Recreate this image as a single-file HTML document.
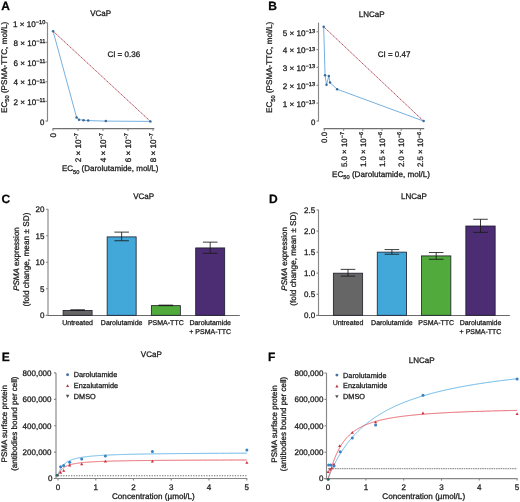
<!DOCTYPE html>
<html><head><meta charset="utf-8"><style>
html,body{margin:0;padding:0;background:#fff;}
text{stroke:#1a1a1a;stroke-width:0.28px;}
svg{display:block;will-change:transform;text-rendering:geometricPrecision;font-family:"Liberation Sans", sans-serif;}
</style></head><body>
<svg width="520" height="502" viewBox="0 0 520 502">
<rect width="520" height="502" fill="#fff"/>
<text x="1.2" y="10.2" font-size="12" text-anchor="start" font-weight="bold" fill="#000" >A</text>
<text x="100.6" y="16.2" font-size="8" text-anchor="middle" font-weight="normal" fill="#1a1a1a" >VCaP</text>
<line x1="47.5" y1="22.7" x2="47.5" y2="121.5" stroke="#878787" stroke-width="1.15" />
<line x1="45.5" y1="121.0" x2="47.5" y2="121.0" stroke="#878787" stroke-width="1.15" />
<line x1="45.5" y1="101.34" x2="47.5" y2="101.34" stroke="#878787" stroke-width="1.15" />
<line x1="45.5" y1="81.68" x2="47.5" y2="81.68" stroke="#878787" stroke-width="1.15" />
<line x1="45.5" y1="62.02" x2="47.5" y2="62.02" stroke="#878787" stroke-width="1.15" />
<line x1="45.5" y1="42.36" x2="47.5" y2="42.36" stroke="#878787" stroke-width="1.15" />
<line x1="45.5" y1="22.700000000000003" x2="47.5" y2="22.700000000000003" stroke="#878787" stroke-width="1.15" />
<text x="44.3" y="124.8" font-size="7.9" text-anchor="end" font-weight="normal" fill="#1a1a1a" >0</text>
<text x="45.3" y="105.14" font-size="8.1" text-anchor="end" font-weight="normal" fill="#1a1a1a" >2 × 10<tspan dx="0" dy="-2.8" font-size="5.6">−11</tspan></text>
<text x="45.3" y="85.48" font-size="8.1" text-anchor="end" font-weight="normal" fill="#1a1a1a" >4 × 10<tspan dx="0" dy="-2.8" font-size="5.6">−11</tspan></text>
<text x="45.3" y="65.82000000000001" font-size="8.1" text-anchor="end" font-weight="normal" fill="#1a1a1a" >6 × 10<tspan dx="0" dy="-2.8" font-size="5.6">−11</tspan></text>
<text x="45.3" y="46.16" font-size="8.1" text-anchor="end" font-weight="normal" fill="#1a1a1a" >8 × 10<tspan dx="0" dy="-2.8" font-size="5.6">−11</tspan></text>
<text x="45.3" y="26.500000000000004" font-size="8.1" text-anchor="end" font-weight="normal" fill="#1a1a1a" >1 × 10<tspan dx="0" dy="-2.8" font-size="5.6">−10</tspan></text>
<text transform="translate(6.5,67.4) rotate(-90)" font-size="8.15" text-anchor="middle" fill="#1a1a1a" >EC<tspan dy="2.3" font-size="5.7">50</tspan><tspan dy="-2.3"> (PSMA-TTC, mol/L)</tspan></text>
<line x1="52.5" y1="128.7" x2="154.3" y2="128.7" stroke="#707070" stroke-width="1.3" />
<line x1="53" y1="128.7" x2="53" y2="130.7" stroke="#878787" stroke-width="1.15" />
<line x1="78" y1="128.7" x2="78" y2="130.7" stroke="#878787" stroke-width="1.15" />
<line x1="103" y1="128.7" x2="103" y2="130.7" stroke="#878787" stroke-width="1.15" />
<line x1="128" y1="128.7" x2="128" y2="130.7" stroke="#878787" stroke-width="1.15" />
<line x1="153" y1="128.7" x2="153" y2="130.7" stroke="#878787" stroke-width="1.15" />
<text transform="translate(56.2,133.1) rotate(-90)" font-size="8.1" text-anchor="end" fill="#1a1a1a" >0</text>
<text transform="translate(81.2,133.1) rotate(-90)" font-size="8.1" text-anchor="end" fill="#1a1a1a" >2 × 10<tspan dx="0" dy="-2.8" font-size="5.6">−7</tspan></text>
<text transform="translate(106.2,133.1) rotate(-90)" font-size="8.1" text-anchor="end" fill="#1a1a1a" >4 × 10<tspan dx="0" dy="-2.8" font-size="5.6">−7</tspan></text>
<text transform="translate(131.2,133.1) rotate(-90)" font-size="8.1" text-anchor="end" fill="#1a1a1a" >6 × 10<tspan dx="0" dy="-2.8" font-size="5.6">−7</tspan></text>
<text transform="translate(156.2,133.1) rotate(-90)" font-size="8.1" text-anchor="end" fill="#1a1a1a" >8 × 10<tspan dx="0" dy="-2.8" font-size="5.6">−7</tspan></text>
<text x="61.9" y="171.4" font-size="8" text-anchor="start" font-weight="normal" fill="#1a1a1a" >EC<tspan dy="2.3" font-size="5.7">50</tspan><tspan dy="-2.3"> (Darolutamide, mol/L)</tspan></text>
<line x1="53.1" y1="31.2" x2="150.4" y2="121.4" stroke="#b03c4c" stroke-width="0.95" stroke-dasharray="1.5,0.6"/>
<polyline points="53.10,31.20 76.60,117.50 79.00,119.70 83.50,120.20 88.20,120.60 105.80,121.10 150.40,121.40" fill="none" stroke="#5da2da" stroke-width="0.85" />
<circle cx="53.1" cy="31.2" r="1.25" fill="#3a6a9a"/>
<circle cx="76.6" cy="117.5" r="1.25" fill="#3a6a9a"/>
<circle cx="79" cy="119.7" r="1.25" fill="#3a6a9a"/>
<circle cx="83.5" cy="120.2" r="1.25" fill="#3a6a9a"/>
<circle cx="88.2" cy="120.6" r="1.25" fill="#3a6a9a"/>
<circle cx="105.8" cy="121.1" r="1.25" fill="#3a6a9a"/>
<circle cx="150.4" cy="121.4" r="1.25" fill="#3a6a9a"/>
<text x="107.4" y="57.2" font-size="8" text-anchor="start" font-weight="normal" fill="#1a1a1a" >CI = 0.36</text>
<text x="268.3" y="10.2" font-size="12" text-anchor="start" font-weight="bold" fill="#000" >B</text>
<text x="371.7" y="17.1" font-size="8" text-anchor="middle" font-weight="normal" fill="#1a1a1a" >LNCaP</text>
<line x1="318.5" y1="22.6" x2="318.5" y2="121.5" stroke="#878787" stroke-width="1.15" />
<line x1="316.5" y1="121.0" x2="318.5" y2="121.0" stroke="#878787" stroke-width="1.15" />
<line x1="316.5" y1="103.15" x2="318.5" y2="103.15" stroke="#878787" stroke-width="1.15" />
<line x1="316.5" y1="85.3" x2="318.5" y2="85.3" stroke="#878787" stroke-width="1.15" />
<line x1="316.5" y1="67.44999999999999" x2="318.5" y2="67.44999999999999" stroke="#878787" stroke-width="1.15" />
<line x1="316.5" y1="49.599999999999994" x2="318.5" y2="49.599999999999994" stroke="#878787" stroke-width="1.15" />
<line x1="316.5" y1="31.75" x2="318.5" y2="31.75" stroke="#878787" stroke-width="1.15" />
<text x="315.5" y="124.8" font-size="7.9" text-anchor="end" font-weight="normal" fill="#1a1a1a" >0</text>
<text x="315.0" y="106.95" font-size="8.1" text-anchor="end" font-weight="normal" fill="#1a1a1a" >1 × 10<tspan dx="0" dy="-2.8" font-size="5.6">−13</tspan></text>
<text x="315.0" y="89.1" font-size="8.1" text-anchor="end" font-weight="normal" fill="#1a1a1a" >2 × 10<tspan dx="0" dy="-2.8" font-size="5.6">−13</tspan></text>
<text x="315.0" y="71.24999999999999" font-size="8.1" text-anchor="end" font-weight="normal" fill="#1a1a1a" >3 × 10<tspan dx="0" dy="-2.8" font-size="5.6">−13</tspan></text>
<text x="315.0" y="53.39999999999999" font-size="8.1" text-anchor="end" font-weight="normal" fill="#1a1a1a" >4 × 10<tspan dx="0" dy="-2.8" font-size="5.6">−13</tspan></text>
<text x="315.0" y="35.55" font-size="8.1" text-anchor="end" font-weight="normal" fill="#1a1a1a" >5 × 10<tspan dx="0" dy="-2.8" font-size="5.6">−13</tspan></text>
<text transform="translate(272.4,67.4) rotate(-90)" font-size="8.15" text-anchor="middle" fill="#1a1a1a" >EC<tspan dy="2.3" font-size="5.7">50</tspan><tspan dy="-2.3"> (PSMA-TTC, mol/L)</tspan></text>
<line x1="323.5" y1="128.7" x2="424.2" y2="128.7" stroke="#707070" stroke-width="1.3" />
<line x1="324.4" y1="128.7" x2="324.4" y2="130.7" stroke="#878787" stroke-width="1.15" />
<text transform="translate(327.29999999999995,131.9) rotate(-90)" font-size="7.9" text-anchor="end" fill="#1a1a1a" >0.0</text>
<line x1="343.59999999999997" y1="128.7" x2="343.59999999999997" y2="130.7" stroke="#878787" stroke-width="1.15" />
<text transform="translate(346.49999999999994,131.9) rotate(-90)" font-size="7.9" text-anchor="end" fill="#1a1a1a" >5.0 × 10<tspan dx="0" dy="-2.8" font-size="5.6">−7</tspan></text>
<line x1="362.79999999999995" y1="128.7" x2="362.79999999999995" y2="130.7" stroke="#878787" stroke-width="1.15" />
<text transform="translate(365.69999999999993,131.9) rotate(-90)" font-size="7.9" text-anchor="end" fill="#1a1a1a" >1.0 × 10<tspan dx="0" dy="-2.8" font-size="5.6">−6</tspan></text>
<line x1="382.0" y1="128.7" x2="382.0" y2="130.7" stroke="#878787" stroke-width="1.15" />
<text transform="translate(384.9,131.9) rotate(-90)" font-size="7.9" text-anchor="end" fill="#1a1a1a" >1.5 × 10<tspan dx="0" dy="-2.8" font-size="5.6">−6</tspan></text>
<line x1="401.2" y1="128.7" x2="401.2" y2="130.7" stroke="#878787" stroke-width="1.15" />
<text transform="translate(404.09999999999997,131.9) rotate(-90)" font-size="7.9" text-anchor="end" fill="#1a1a1a" >2.0 × 10<tspan dx="0" dy="-2.8" font-size="5.6">−6</tspan></text>
<line x1="420.4" y1="128.7" x2="420.4" y2="130.7" stroke="#878787" stroke-width="1.15" />
<text transform="translate(423.29999999999995,131.9) rotate(-90)" font-size="7.9" text-anchor="end" fill="#1a1a1a" >2.5 × 10<tspan dx="0" dy="-2.8" font-size="5.6">−6</tspan></text>
<text x="332" y="176.6" font-size="8.15" text-anchor="start" font-weight="normal" fill="#1a1a1a" >EC<tspan dy="2.3" font-size="5.7">50</tspan><tspan dy="-2.3"> (Darolutamide, mol/L)</tspan></text>
<line x1="323.7" y1="26.8" x2="423.6" y2="121.1" stroke="#b03c4c" stroke-width="0.95" stroke-dasharray="1.5,0.6"/>
<polyline points="323.70,26.80 325.05,75.20 326.50,84.70 328.80,76.10 330.00,82.60 337.10,89.20 423.60,121.10" fill="none" stroke="#5da2da" stroke-width="0.85" />
<circle cx="323.7" cy="26.8" r="1.25" fill="#3a6a9a"/>
<circle cx="325.05" cy="75.2" r="1.25" fill="#3a6a9a"/>
<circle cx="326.5" cy="84.7" r="1.25" fill="#3a6a9a"/>
<circle cx="328.8" cy="76.1" r="1.25" fill="#3a6a9a"/>
<circle cx="330" cy="82.6" r="1.25" fill="#3a6a9a"/>
<circle cx="337.1" cy="89.2" r="1.25" fill="#3a6a9a"/>
<circle cx="423.6" cy="121.1" r="1.25" fill="#3a6a9a"/>
<text x="377.7" y="57.2" font-size="8" text-anchor="start" font-weight="normal" fill="#1a1a1a" >CI = 0.47</text>
<text x="1.5" y="202.6" font-size="12" text-anchor="start" font-weight="bold" fill="#000" >C</text>
<text x="143.6" y="199.1" font-size="8" text-anchor="middle" font-weight="normal" fill="#1a1a1a" >VCaP</text>
<line x1="48.0" y1="208.89999999999998" x2="48.0" y2="315.5" stroke="#878787" stroke-width="1.15" />
<line x1="45.8" y1="315.5" x2="239.8" y2="315.5" stroke="#6a6a6a" stroke-width="1.05" />
<line x1="46.0" y1="315.3" x2="48.0" y2="315.3" stroke="#878787" stroke-width="1.15" />
<text x="44.4" y="318.1" font-size="8" text-anchor="end" font-weight="normal" fill="#1a1a1a" >0</text>
<line x1="46.0" y1="288.775" x2="48.0" y2="288.775" stroke="#878787" stroke-width="1.15" />
<text x="44.4" y="291.575" font-size="8" text-anchor="end" font-weight="normal" fill="#1a1a1a" >5</text>
<line x1="46.0" y1="262.25" x2="48.0" y2="262.25" stroke="#878787" stroke-width="1.15" />
<text x="44.4" y="265.05" font-size="8" text-anchor="end" font-weight="normal" fill="#1a1a1a" >10</text>
<line x1="46.0" y1="235.725" x2="48.0" y2="235.725" stroke="#878787" stroke-width="1.15" />
<text x="44.4" y="238.525" font-size="8" text-anchor="end" font-weight="normal" fill="#1a1a1a" >15</text>
<line x1="46.0" y1="209.2" x2="48.0" y2="209.2" stroke="#878787" stroke-width="1.15" />
<text x="44.4" y="212.0" font-size="8" text-anchor="end" font-weight="normal" fill="#1a1a1a" >20</text>
<rect x="63.099999999999994" y="310.4194" width="29.0" height="4.880600000000015" fill="#666666" stroke="#1b1b2a" stroke-width="0.8"/>
<line x1="77.6" y1="309.72975" x2="77.6" y2="310.5255" stroke="#1a1a1a" stroke-width="0.85" />
<line x1="70.3" y1="309.72975" x2="84.89999999999999" y2="309.72975" stroke="#1a1a1a" stroke-width="0.85" />
<line x1="70.3" y1="310.5255" x2="84.89999999999999" y2="310.5255" stroke="#1a1a1a" stroke-width="0.85" />
<rect x="107.15" y="236.8921" width="29.0" height="78.40790000000001" fill="#42a8da" stroke="#1b1b2a" stroke-width="0.8"/>
<line x1="121.65" y1="232.11759999999998" x2="121.65" y2="240.76475" stroke="#1a1a1a" stroke-width="0.85" />
<line x1="114.35000000000001" y1="232.11759999999998" x2="128.95000000000002" y2="232.11759999999998" stroke="#1a1a1a" stroke-width="0.85" />
<line x1="114.35000000000001" y1="240.76475" x2="128.95000000000002" y2="240.76475" stroke="#1a1a1a" stroke-width="0.85" />
<rect x="151.35" y="305.6449" width="29.0" height="9.655100000000004" fill="#50aa3c" stroke="#1b1b2a" stroke-width="0.8"/>
<line x1="165.85" y1="305.1144" x2="165.85" y2="305.6449" stroke="#1a1a1a" stroke-width="0.85" />
<line x1="158.54999999999998" y1="305.1144" x2="173.15" y2="305.1144" stroke="#1a1a1a" stroke-width="0.85" />
<line x1="158.54999999999998" y1="305.6449" x2="173.15" y2="305.6449" stroke="#1a1a1a" stroke-width="0.85" />
<rect x="195.7" y="247.92649999999998" width="29.0" height="67.37350000000004" fill="#4c2c72" stroke="#1b1b2a" stroke-width="0.8"/>
<line x1="210.2" y1="242.14405" x2="210.2" y2="253.28455" stroke="#1a1a1a" stroke-width="0.85" />
<line x1="202.89999999999998" y1="242.14405" x2="217.5" y2="242.14405" stroke="#1a1a1a" stroke-width="0.85" />
<line x1="202.89999999999998" y1="253.28455" x2="217.5" y2="253.28455" stroke="#1a1a1a" stroke-width="0.85" />
<text x="77.6" y="325.2" font-size="7" text-anchor="middle" font-weight="normal" fill="#1a1a1a" >Untreated</text>
<text x="121.65" y="325.2" font-size="7" text-anchor="middle" font-weight="normal" fill="#1a1a1a" >Darolutamide</text>
<text x="165.85" y="325.2" font-size="7" text-anchor="middle" font-weight="normal" fill="#1a1a1a" >PSMA-TTC</text>
<text x="210.2" y="325.2" font-size="7" text-anchor="middle" font-weight="normal" fill="#1a1a1a" >Darolutamide</text>
<text x="210.2" y="333.6" font-size="7" text-anchor="middle" font-weight="normal" fill="#1a1a1a" >+ PSMA-TTC</text>
<text transform="translate(18.8,259.0) rotate(-90)" font-size="8" text-anchor="middle" fill="#1a1a1a" ><tspan font-style="italic">PSMA</tspan> expression</text>
<text transform="translate(28.6,259.6) rotate(-90)" font-size="8.25" text-anchor="middle" fill="#1a1a1a" >(fold change, mean ± SD)</text>
<text x="268.9" y="202.6" font-size="12" text-anchor="start" font-weight="bold" fill="#000" >D</text>
<text x="414" y="198.7" font-size="8" text-anchor="middle" font-weight="normal" fill="#1a1a1a" >LNCaP</text>
<line x1="318.5" y1="209.7" x2="318.5" y2="315.5" stroke="#878787" stroke-width="1.15" />
<line x1="316.3" y1="315.5" x2="509.8" y2="315.5" stroke="#6a6a6a" stroke-width="1.05" />
<line x1="316.5" y1="315.3" x2="318.5" y2="315.3" stroke="#878787" stroke-width="1.15" />
<text x="315.2" y="318.1" font-size="8" text-anchor="end" font-weight="normal" fill="#1a1a1a" >0.0</text>
<line x1="316.5" y1="294.24" x2="318.5" y2="294.24" stroke="#878787" stroke-width="1.15" />
<text x="315.2" y="297.04" font-size="8" text-anchor="end" font-weight="normal" fill="#1a1a1a" >0.5</text>
<line x1="316.5" y1="273.18" x2="318.5" y2="273.18" stroke="#878787" stroke-width="1.15" />
<text x="315.2" y="275.98" font-size="8" text-anchor="end" font-weight="normal" fill="#1a1a1a" >1.0</text>
<line x1="316.5" y1="252.12" x2="318.5" y2="252.12" stroke="#878787" stroke-width="1.15" />
<text x="315.2" y="254.92000000000002" font-size="8" text-anchor="end" font-weight="normal" fill="#1a1a1a" >1.5</text>
<line x1="316.5" y1="231.06" x2="318.5" y2="231.06" stroke="#878787" stroke-width="1.15" />
<text x="315.2" y="233.86" font-size="8" text-anchor="end" font-weight="normal" fill="#1a1a1a" >2.0</text>
<line x1="316.5" y1="210.0" x2="318.5" y2="210.0" stroke="#878787" stroke-width="1.15" />
<text x="315.2" y="212.8" font-size="8" text-anchor="end" font-weight="normal" fill="#1a1a1a" >2.5</text>
<rect x="333.35" y="273.18" width="29.3" height="42.120000000000005" fill="#666666" stroke="#1b1b2a" stroke-width="0.8"/>
<line x1="348" y1="269.3892" x2="348" y2="276.1284" stroke="#1a1a1a" stroke-width="0.85" />
<line x1="340.7" y1="269.3892" x2="355.3" y2="269.3892" stroke="#1a1a1a" stroke-width="0.85" />
<line x1="340.7" y1="276.1284" x2="355.3" y2="276.1284" stroke="#1a1a1a" stroke-width="0.85" />
<rect x="377.25" y="252.12" width="29.3" height="63.18000000000001" fill="#42a8da" stroke="#1b1b2a" stroke-width="0.8"/>
<line x1="391.9" y1="249.5928" x2="391.9" y2="254.226" stroke="#1a1a1a" stroke-width="0.85" />
<line x1="384.59999999999997" y1="249.5928" x2="399.2" y2="249.5928" stroke="#1a1a1a" stroke-width="0.85" />
<line x1="384.59999999999997" y1="254.226" x2="399.2" y2="254.226" stroke="#1a1a1a" stroke-width="0.85" />
<rect x="421.55" y="255.9108" width="29.3" height="59.38920000000002" fill="#50aa3c" stroke="#1b1b2a" stroke-width="0.8"/>
<line x1="436.2" y1="252.5412" x2="436.2" y2="259.2804" stroke="#1a1a1a" stroke-width="0.85" />
<line x1="428.9" y1="252.5412" x2="443.5" y2="252.5412" stroke="#1a1a1a" stroke-width="0.85" />
<line x1="428.9" y1="259.2804" x2="443.5" y2="259.2804" stroke="#1a1a1a" stroke-width="0.85" />
<rect x="465.85" y="226.00560000000002" width="29.3" height="89.2944" fill="#4c2c72" stroke="#1b1b2a" stroke-width="0.8"/>
<line x1="480.5" y1="219.2664" x2="480.5" y2="232.3236" stroke="#1a1a1a" stroke-width="0.85" />
<line x1="473.2" y1="219.2664" x2="487.8" y2="219.2664" stroke="#1a1a1a" stroke-width="0.85" />
<line x1="473.2" y1="232.3236" x2="487.8" y2="232.3236" stroke="#1a1a1a" stroke-width="0.85" />
<text x="348" y="325.2" font-size="7" text-anchor="middle" font-weight="normal" fill="#1a1a1a" >Untreated</text>
<text x="391.9" y="325.2" font-size="7" text-anchor="middle" font-weight="normal" fill="#1a1a1a" >Darolutamide</text>
<text x="436.2" y="325.2" font-size="7" text-anchor="middle" font-weight="normal" fill="#1a1a1a" >PSMA-TTC</text>
<text x="480.5" y="325.2" font-size="7" text-anchor="middle" font-weight="normal" fill="#1a1a1a" >Darolutamide</text>
<text x="480.5" y="333.6" font-size="7" text-anchor="middle" font-weight="normal" fill="#1a1a1a" >+ PSMA-TTC</text>
<text transform="translate(287.2,258.9) rotate(-90)" font-size="8" text-anchor="middle" fill="#1a1a1a" ><tspan font-style="italic">PSMA</tspan> expression</text>
<text transform="translate(295.8,258.7) rotate(-90)" font-size="8.25" text-anchor="middle" fill="#1a1a1a" >(fold change, mean ± SD)</text>
<text x="1.8" y="361" font-size="12" text-anchor="start" font-weight="bold" fill="#000" >E</text>
<text x="151.3" y="357.1" font-size="8" text-anchor="middle" font-weight="normal" fill="#1a1a1a" >VCaP</text>
<line x1="56" y1="372.9" x2="56" y2="479.0" stroke="#878787" stroke-width="1.15" />
<line x1="53.8" y1="478.5" x2="247.3" y2="478.5" stroke="#878787" stroke-width="1.15" />
<line x1="54" y1="478.5" x2="56" y2="478.5" stroke="#878787" stroke-width="1.15" />
<text x="52.5" y="481.3" font-size="8" text-anchor="end" font-weight="normal" fill="#1a1a1a" >0</text>
<line x1="54" y1="452.1" x2="56" y2="452.1" stroke="#878787" stroke-width="1.15" />
<text x="51.5" y="454.90000000000003" font-size="8" text-anchor="end" font-weight="normal" fill="#1a1a1a" >200,000</text>
<line x1="54" y1="425.7" x2="56" y2="425.7" stroke="#878787" stroke-width="1.15" />
<text x="51.5" y="428.5" font-size="8" text-anchor="end" font-weight="normal" fill="#1a1a1a" >400,000</text>
<line x1="54" y1="399.3" x2="56" y2="399.3" stroke="#878787" stroke-width="1.15" />
<text x="51.5" y="402.1" font-size="8" text-anchor="end" font-weight="normal" fill="#1a1a1a" >600,000</text>
<line x1="54" y1="372.9" x2="56" y2="372.9" stroke="#878787" stroke-width="1.15" />
<text x="51.5" y="375.7" font-size="8" text-anchor="end" font-weight="normal" fill="#1a1a1a" >800,000</text>
<line x1="58.0" y1="478.5" x2="58.0" y2="480.5" stroke="#878787" stroke-width="1.15" />
<text x="58.0" y="489.6" font-size="8" text-anchor="middle" font-weight="normal" fill="#1a1a1a" >0</text>
<line x1="95.75" y1="478.5" x2="95.75" y2="480.5" stroke="#878787" stroke-width="1.15" />
<text x="95.75" y="489.6" font-size="8" text-anchor="middle" font-weight="normal" fill="#1a1a1a" >1</text>
<line x1="133.5" y1="478.5" x2="133.5" y2="480.5" stroke="#878787" stroke-width="1.15" />
<text x="133.5" y="489.6" font-size="8" text-anchor="middle" font-weight="normal" fill="#1a1a1a" >2</text>
<line x1="171.25" y1="478.5" x2="171.25" y2="480.5" stroke="#878787" stroke-width="1.15" />
<text x="171.25" y="489.6" font-size="8" text-anchor="middle" font-weight="normal" fill="#1a1a1a" >3</text>
<line x1="209.0" y1="478.5" x2="209.0" y2="480.5" stroke="#878787" stroke-width="1.15" />
<text x="209.0" y="489.6" font-size="8" text-anchor="middle" font-weight="normal" fill="#1a1a1a" >4</text>
<line x1="246.75" y1="478.5" x2="246.75" y2="480.5" stroke="#878787" stroke-width="1.15" />
<text x="246.75" y="489.6" font-size="8" text-anchor="middle" font-weight="normal" fill="#1a1a1a" >5</text>
<text x="153.4" y="499.2" font-size="8.15" text-anchor="middle" font-weight="normal" fill="#1a1a1a" >Concentration (µmol/L)</text>
<text transform="translate(7.1,423.7) rotate(-90)" font-size="8" text-anchor="middle" fill="#1a1a1a" >PSMA surface protein</text>
<text transform="translate(16.6,423.7) rotate(-90)" font-size="8" text-anchor="middle" fill="#1a1a1a" >(antibodies bound per cell)</text>
<line x1="58" y1="475.7" x2="246.75" y2="475.7" stroke="#6a6a6a" stroke-width="1.05" stroke-dasharray="1.3,1.3"/>
<polyline points="58.00,475.32 58.00,475.31 58.00,475.30 58.01,475.28 58.02,475.25 58.03,475.22 58.04,475.17 58.06,475.12 58.08,475.06 58.10,474.99 58.12,474.91 58.14,474.83 58.17,474.74 58.20,474.64 58.23,474.54 58.27,474.43 58.30,474.31 58.34,474.19 58.38,474.06 58.43,473.92 58.47,473.78 58.52,473.64 58.57,473.49 58.62,473.33 58.68,473.17 58.74,473.00 58.80,472.84 58.86,472.66 58.92,472.49 58.99,472.31 59.06,472.13 59.13,471.94 59.21,471.76 59.28,471.57 59.36,471.38 59.45,471.18 59.53,470.99 59.61,470.79 59.70,470.60 59.79,470.40 59.89,470.20 59.98,470.00 60.08,469.80 60.18,469.60 60.28,469.40 60.39,469.20 60.50,469.00 60.61,468.81 60.72,468.61 60.83,468.41 60.95,468.21 61.07,468.02 61.19,467.82 61.31,467.63 61.44,467.44 61.57,467.25 61.70,467.06 61.83,466.87 61.97,466.68 62.11,466.50 62.25,466.32 62.39,466.13 62.53,465.95 62.68,465.78 62.83,465.60 62.98,465.43 63.14,465.25 63.30,465.08 63.45,464.92 63.62,464.75 63.78,464.59 63.95,464.42 64.12,464.26 64.29,464.11 64.46,463.95 64.64,463.80 64.81,463.64 64.99,463.49 65.18,463.35 65.36,463.20 65.55,463.06 65.74,462.92 65.93,462.78 66.13,462.64 66.32,462.50 66.52,462.37 66.72,462.24 66.93,462.11 67.14,461.98 67.34,461.85 67.56,461.73 67.77,461.61 67.98,461.49 68.20,461.37 68.42,461.25 68.65,461.14 68.87,461.03 69.10,460.91 69.33,460.80 69.56,460.70 69.80,460.59 70.03,460.49 70.27,460.38 70.52,460.28 70.76,460.18 71.01,460.08 71.25,459.99 71.51,459.89 71.76,459.80 72.02,459.71 72.27,459.62 72.53,459.53 72.80,459.44 73.06,459.35 73.33,459.27 73.60,459.18 73.87,459.10 74.15,459.02 74.43,458.94 74.71,458.86 74.99,458.78 75.27,458.71 75.56,458.63 75.85,458.56 76.14,458.49 76.43,458.41 76.73,458.34 77.03,458.27 77.33,458.21 77.63,458.14 77.94,458.07 78.24,458.01 78.55,457.94 78.87,457.88 79.18,457.82 79.50,457.76 79.82,457.70 80.14,457.64 80.47,457.58 80.79,457.52 81.12,457.46 81.45,457.41 81.79,457.35 82.12,457.30 82.46,457.24 82.80,457.19 83.15,457.14 83.49,457.09 83.84,457.04 84.19,456.99 84.54,456.94 84.90,456.89 85.26,456.84 85.62,456.80 85.98,456.75 86.34,456.70 86.71,456.66 87.08,456.62 87.45,456.57 87.82,456.53 88.20,456.49 88.58,456.44 88.96,456.40 89.34,456.36 89.73,456.32 90.12,456.28 90.51,456.24 90.90,456.21 91.30,456.17 91.69,456.13 92.09,456.09 92.50,456.06 92.90,456.02 93.31,455.99 93.72,455.95 94.13,455.92 94.54,455.88 94.96,455.85 95.38,455.82 95.80,455.78 96.22,455.75 96.65,455.72 97.08,455.69 97.51,455.66 97.94,455.63 98.37,455.60 98.81,455.57 99.25,455.54 99.69,455.51 100.14,455.48 100.59,455.45 101.04,455.43 101.49,455.40 101.94,455.37 102.40,455.35 102.86,455.32 103.32,455.29 103.78,455.27 104.25,455.24 104.72,455.22 105.19,455.19 105.66,455.17 106.14,455.14 106.61,455.12 107.09,455.10 107.58,455.07 108.06,455.05 108.55,455.03 109.04,455.00 109.53,454.98 110.02,454.96 110.52,454.94 111.02,454.92 111.52,454.90 112.02,454.88 112.53,454.86 113.04,454.83 113.55,454.81 114.06,454.80 114.58,454.78 115.10,454.76 115.62,454.74 116.14,454.72 116.66,454.70 117.19,454.68 117.72,454.66 118.25,454.64 118.79,454.63 119.32,454.61 119.86,454.59 120.41,454.57 120.95,454.56 121.50,454.54 122.04,454.52 122.59,454.51 123.15,454.49 123.70,454.47 124.26,454.46 124.82,454.44 125.38,454.43 125.95,454.41 126.52,454.40 127.09,454.38 127.66,454.37 128.23,454.35 128.81,454.34 129.39,454.32 129.97,454.31 130.56,454.29 131.14,454.28 131.73,454.27 132.32,454.25 132.91,454.24 133.51,454.23 134.11,454.21 134.71,454.20 135.31,454.19 135.92,454.17 136.52,454.16 137.13,454.15 137.75,454.14 138.36,454.12 138.98,454.11 139.60,454.10 140.22,454.09 140.84,454.07 141.47,454.06 142.10,454.05 142.73,454.04 143.36,454.03 144.00,454.02 144.64,454.01 145.28,454.00 145.92,453.98 146.57,453.97 147.21,453.96 147.86,453.95 148.52,453.94 149.17,453.93 149.83,453.92 150.49,453.91 151.15,453.90 151.81,453.89 152.48,453.88 153.15,453.87 153.82,453.86 154.49,453.85 155.17,453.84 155.85,453.83 156.53,453.82 157.21,453.81 157.90,453.80 158.58,453.80 159.27,453.79 159.97,453.78 160.66,453.77 161.36,453.76 162.06,453.75 162.76,453.74 163.47,453.73 164.17,453.73 164.88,453.72 165.59,453.71 166.31,453.70 167.02,453.69 167.74,453.69 168.46,453.68 169.18,453.67 169.91,453.66 170.64,453.65 171.37,453.65 172.10,453.64 172.84,453.63 173.57,453.62 174.31,453.62 175.05,453.61 175.80,453.60 176.55,453.59 177.29,453.59 178.05,453.58 178.80,453.57 179.56,453.57 180.31,453.56 181.08,453.55 181.84,453.55 182.60,453.54 183.37,453.53 184.14,453.53 184.92,453.52 185.69,453.51 186.47,453.51 187.25,453.50 188.03,453.49 188.81,453.49 189.60,453.48 190.39,453.47 191.18,453.47 191.98,453.46 192.77,453.46 193.57,453.45 194.37,453.44 195.18,453.44 195.98,453.43 196.79,453.43 197.60,453.42 198.41,453.42 199.23,453.41 200.04,453.40 200.86,453.40 201.69,453.39 202.51,453.39 203.34,453.38 204.17,453.38 205.00,453.37 205.83,453.37 206.67,453.36 207.51,453.36 208.35,453.35 209.19,453.35 210.04,453.34 210.89,453.33 211.74,453.33 212.59,453.32 213.45,453.32 214.30,453.32 215.16,453.31 216.03,453.31 216.89,453.30 217.76,453.30 218.63,453.29 219.50,453.29 220.37,453.28 221.25,453.28 222.13,453.27 223.01,453.27 223.89,453.26 224.78,453.26 225.67,453.25 226.56,453.25 227.45,453.25 228.35,453.24 229.24,453.24 230.14,453.23 231.05,453.23 231.95,453.22 232.86,453.22 233.77,453.22 234.68,453.21 235.59,453.21 236.51,453.20 237.43,453.20 238.35,453.20 239.28,453.19 240.20,453.19 241.13,453.18 242.06,453.18 242.99,453.18 243.93,453.17 244.87,453.17 245.81,453.17 246.75,453.16" fill="none" stroke="#55aee4" stroke-width="0.9" />
<polyline points="58.00,475.68 58.00,475.67 58.00,475.66 58.01,475.65 58.02,475.62 58.03,475.59 58.04,475.56 58.06,475.52 58.08,475.47 58.10,475.41 58.12,475.35 58.14,475.29 58.17,475.22 58.20,475.14 58.23,475.06 58.27,474.97 58.30,474.88 58.34,474.78 58.38,474.68 58.43,474.57 58.47,474.46 58.52,474.35 58.57,474.23 58.62,474.11 58.68,473.98 58.74,473.86 58.80,473.72 58.86,473.59 58.92,473.46 58.99,473.32 59.06,473.18 59.13,473.04 59.21,472.89 59.28,472.75 59.36,472.60 59.45,472.46 59.53,472.31 59.61,472.16 59.70,472.01 59.79,471.86 59.89,471.71 59.98,471.56 60.08,471.41 60.18,471.26 60.28,471.11 60.39,470.97 60.50,470.82 60.61,470.67 60.72,470.52 60.83,470.38 60.95,470.23 61.07,470.09 61.19,469.95 61.31,469.80 61.44,469.66 61.57,469.52 61.70,469.39 61.83,469.25 61.97,469.12 62.11,468.98 62.25,468.85 62.39,468.72 62.53,468.59 62.68,468.46 62.83,468.34 62.98,468.21 63.14,468.09 63.30,467.97 63.45,467.85 63.62,467.73 63.78,467.61 63.95,467.50 64.12,467.39 64.29,467.27 64.46,467.16 64.64,467.06 64.81,466.95 64.99,466.84 65.18,466.74 65.36,466.64 65.55,466.54 65.74,466.44 65.93,466.34 66.13,466.25 66.32,466.15 66.52,466.06 66.72,465.97 66.93,465.88 67.14,465.79 67.34,465.71 67.56,465.62 67.77,465.54 67.98,465.46 68.20,465.37 68.42,465.29 68.65,465.22 68.87,465.14 69.10,465.06 69.33,464.99 69.56,464.92 69.80,464.84 70.03,464.77 70.27,464.70 70.52,464.63 70.76,464.57 71.01,464.50 71.25,464.44 71.51,464.37 71.76,464.31 72.02,464.25 72.27,464.18 72.53,464.12 72.80,464.07 73.06,464.01 73.33,463.95 73.60,463.89 73.87,463.84 74.15,463.79 74.43,463.73 74.71,463.68 74.99,463.63 75.27,463.58 75.56,463.53 75.85,463.48 76.14,463.43 76.43,463.38 76.73,463.34 77.03,463.29 77.33,463.24 77.63,463.20 77.94,463.16 78.24,463.11 78.55,463.07 78.87,463.03 79.18,462.99 79.50,462.95 79.82,462.91 80.14,462.87 80.47,462.83 80.79,462.79 81.12,462.75 81.45,462.72 81.79,462.68 82.12,462.65 82.46,462.61 82.80,462.58 83.15,462.54 83.49,462.51 83.84,462.48 84.19,462.44 84.54,462.41 84.90,462.38 85.26,462.35 85.62,462.32 85.98,462.29 86.34,462.26 86.71,462.23 87.08,462.20 87.45,462.17 87.82,462.14 88.20,462.12 88.58,462.09 88.96,462.06 89.34,462.04 89.73,462.01 90.12,461.98 90.51,461.96 90.90,461.93 91.30,461.91 91.69,461.88 92.09,461.86 92.50,461.84 92.90,461.81 93.31,461.79 93.72,461.77 94.13,461.75 94.54,461.72 94.96,461.70 95.38,461.68 95.80,461.66 96.22,461.64 96.65,461.62 97.08,461.60 97.51,461.58 97.94,461.56 98.37,461.54 98.81,461.52 99.25,461.50 99.69,461.48 100.14,461.47 100.59,461.45 101.04,461.43 101.49,461.41 101.94,461.39 102.40,461.38 102.86,461.36 103.32,461.34 103.78,461.33 104.25,461.31 104.72,461.29 105.19,461.28 105.66,461.26 106.14,461.25 106.61,461.23 107.09,461.22 107.58,461.20 108.06,461.19 108.55,461.17 109.04,461.16 109.53,461.14 110.02,461.13 110.52,461.12 111.02,461.10 111.52,461.09 112.02,461.08 112.53,461.06 113.04,461.05 113.55,461.04 114.06,461.02 114.58,461.01 115.10,461.00 115.62,460.99 116.14,460.98 116.66,460.96 117.19,460.95 117.72,460.94 118.25,460.93 118.79,460.92 119.32,460.91 119.86,460.89 120.41,460.88 120.95,460.87 121.50,460.86 122.04,460.85 122.59,460.84 123.15,460.83 123.70,460.82 124.26,460.81 124.82,460.80 125.38,460.79 125.95,460.78 126.52,460.77 127.09,460.76 127.66,460.75 128.23,460.74 128.81,460.73 129.39,460.72 129.97,460.71 130.56,460.70 131.14,460.70 131.73,460.69 132.32,460.68 132.91,460.67 133.51,460.66 134.11,460.65 134.71,460.64 135.31,460.64 135.92,460.63 136.52,460.62 137.13,460.61 137.75,460.60 138.36,460.60 138.98,460.59 139.60,460.58 140.22,460.57 140.84,460.57 141.47,460.56 142.10,460.55 142.73,460.54 143.36,460.54 144.00,460.53 144.64,460.52 145.28,460.52 145.92,460.51 146.57,460.50 147.21,460.49 147.86,460.49 148.52,460.48 149.17,460.47 149.83,460.47 150.49,460.46 151.15,460.46 151.81,460.45 152.48,460.44 153.15,460.44 153.82,460.43 154.49,460.42 155.17,460.42 155.85,460.41 156.53,460.41 157.21,460.40 157.90,460.39 158.58,460.39 159.27,460.38 159.97,460.38 160.66,460.37 161.36,460.37 162.06,460.36 162.76,460.36 163.47,460.35 164.17,460.34 164.88,460.34 165.59,460.33 166.31,460.33 167.02,460.32 167.74,460.32 168.46,460.31 169.18,460.31 169.91,460.30 170.64,460.30 171.37,460.29 172.10,460.29 172.84,460.28 173.57,460.28 174.31,460.27 175.05,460.27 175.80,460.27 176.55,460.26 177.29,460.26 178.05,460.25 178.80,460.25 179.56,460.24 180.31,460.24 181.08,460.23 181.84,460.23 182.60,460.23 183.37,460.22 184.14,460.22 184.92,460.21 185.69,460.21 186.47,460.21 187.25,460.20 188.03,460.20 188.81,460.19 189.60,460.19 190.39,460.19 191.18,460.18 191.98,460.18 192.77,460.17 193.57,460.17 194.37,460.17 195.18,460.16 195.98,460.16 196.79,460.16 197.60,460.15 198.41,460.15 199.23,460.14 200.04,460.14 200.86,460.14 201.69,460.13 202.51,460.13 203.34,460.13 204.17,460.12 205.00,460.12 205.83,460.12 206.67,460.11 207.51,460.11 208.35,460.11 209.19,460.10 210.04,460.10 210.89,460.10 211.74,460.09 212.59,460.09 213.45,460.09 214.30,460.09 215.16,460.08 216.03,460.08 216.89,460.08 217.76,460.07 218.63,460.07 219.50,460.07 220.37,460.06 221.25,460.06 222.13,460.06 223.01,460.06 223.89,460.05 224.78,460.05 225.67,460.05 226.56,460.04 227.45,460.04 228.35,460.04 229.24,460.04 230.14,460.03 231.05,460.03 231.95,460.03 232.86,460.03 233.77,460.02 234.68,460.02 235.59,460.02 236.51,460.02 237.43,460.01 238.35,460.01 239.28,460.01 240.20,460.01 241.13,460.00 242.06,460.00 242.99,460.00 243.93,460.00 244.87,459.99 245.81,459.99 246.75,459.99" fill="none" stroke="#e4505a" stroke-width="0.9" />
<polygon points="59.050000000000004,473.79499999999996 62.15,473.79499999999996 60.6,471.005" fill="#c8303f"/>
<polygon points="62.150000000000006,471.79499999999996 65.25,471.79499999999996 63.7,469.005" fill="#c8303f"/>
<polygon points="68.15,466.395 71.25,466.395 69.7,463.605" fill="#c8303f"/>
<polygon points="80.15,465.195 83.25,465.195 81.7,462.40500000000003" fill="#c8303f"/>
<polygon points="103.85000000000001,462.59499999999997 106.95,462.59499999999997 105.4,459.805" fill="#c8303f"/>
<polygon points="150.85,462.59499999999997 153.95000000000002,462.59499999999997 152.4,459.805" fill="#c8303f"/>
<polygon points="245.35,463.79499999999996 248.45000000000002,463.79499999999996 246.9,461.005" fill="#c8303f"/>
<circle cx="60.6" cy="466.8" r="1.5" fill="#3a82c0"/>
<circle cx="63.7" cy="465.5" r="1.5" fill="#3a82c0"/>
<circle cx="69.7" cy="462.2" r="1.5" fill="#3a82c0"/>
<circle cx="81.7" cy="459" r="1.5" fill="#3a82c0"/>
<circle cx="105.4" cy="455.9" r="1.5" fill="#3a82c0"/>
<circle cx="152.4" cy="451.6" r="1.5" fill="#3a82c0"/>
<circle cx="246.9" cy="450.1" r="1.5" fill="#3a82c0"/>
<circle cx="57.1" cy="475.2" r="1.5" fill="#2e6a62"/>
<circle cx="67.6" cy="374.8" r="1.45" fill="#44739f"/>
<polygon points="66.05,387.095 69.14999999999999,387.095 67.6,384.30500000000006" fill="#b83545"/>
<polygon points="65.85,394.82500000000005 69.35,394.82500000000005 67.6,397.975" fill="#4a5058"/>
<text x="73.8" y="377.20000000000005" font-size="7.3" text-anchor="start" font-weight="normal" fill="#1a1a1a" >Darolutamide</text>
<text x="73.8" y="388.1" font-size="7.3" text-anchor="start" font-weight="normal" fill="#1a1a1a" >Enzalutamide</text>
<text x="73.8" y="398.8" font-size="7.3" text-anchor="start" font-weight="normal" fill="#1a1a1a" >DMSO</text>
<text x="268" y="361" font-size="12" text-anchor="start" font-weight="bold" fill="#000" >F</text>
<text x="421.7" y="362.5" font-size="8" text-anchor="middle" font-weight="normal" fill="#1a1a1a" >LNCaP</text>
<line x1="326.5" y1="373.0" x2="326.5" y2="479.1" stroke="#878787" stroke-width="1.15" />
<line x1="324.3" y1="478.6" x2="517.5" y2="478.6" stroke="#878787" stroke-width="1.15" />
<line x1="324.5" y1="478.6" x2="326.5" y2="478.6" stroke="#878787" stroke-width="1.15" />
<text x="323.4" y="481.40000000000003" font-size="8" text-anchor="end" font-weight="normal" fill="#1a1a1a" >0</text>
<line x1="324.5" y1="452.20000000000005" x2="326.5" y2="452.20000000000005" stroke="#878787" stroke-width="1.15" />
<text x="323.4" y="455.00000000000006" font-size="8" text-anchor="end" font-weight="normal" fill="#1a1a1a" >200,000</text>
<line x1="324.5" y1="425.8" x2="326.5" y2="425.8" stroke="#878787" stroke-width="1.15" />
<text x="323.4" y="428.6" font-size="8" text-anchor="end" font-weight="normal" fill="#1a1a1a" >400,000</text>
<line x1="324.5" y1="399.40000000000003" x2="326.5" y2="399.40000000000003" stroke="#878787" stroke-width="1.15" />
<text x="323.4" y="402.20000000000005" font-size="8" text-anchor="end" font-weight="normal" fill="#1a1a1a" >600,000</text>
<line x1="324.5" y1="373.0" x2="326.5" y2="373.0" stroke="#878787" stroke-width="1.15" />
<text x="323.4" y="375.8" font-size="8" text-anchor="end" font-weight="normal" fill="#1a1a1a" >800,000</text>
<line x1="328.1" y1="478.6" x2="328.1" y2="480.6" stroke="#878787" stroke-width="1.15" />
<text x="328.1" y="489.6" font-size="8" text-anchor="middle" font-weight="normal" fill="#1a1a1a" >0</text>
<line x1="365.90000000000003" y1="478.6" x2="365.90000000000003" y2="480.6" stroke="#878787" stroke-width="1.15" />
<text x="365.90000000000003" y="489.6" font-size="8" text-anchor="middle" font-weight="normal" fill="#1a1a1a" >1</text>
<line x1="403.70000000000005" y1="478.6" x2="403.70000000000005" y2="480.6" stroke="#878787" stroke-width="1.15" />
<text x="403.70000000000005" y="489.6" font-size="8" text-anchor="middle" font-weight="normal" fill="#1a1a1a" >2</text>
<line x1="441.5" y1="478.6" x2="441.5" y2="480.6" stroke="#878787" stroke-width="1.15" />
<text x="441.5" y="489.6" font-size="8" text-anchor="middle" font-weight="normal" fill="#1a1a1a" >3</text>
<line x1="479.3" y1="478.6" x2="479.3" y2="480.6" stroke="#878787" stroke-width="1.15" />
<text x="479.3" y="489.6" font-size="8" text-anchor="middle" font-weight="normal" fill="#1a1a1a" >4</text>
<line x1="517.1" y1="478.6" x2="517.1" y2="480.6" stroke="#878787" stroke-width="1.15" />
<text x="517.1" y="489.6" font-size="8" text-anchor="middle" font-weight="normal" fill="#1a1a1a" >5</text>
<text x="423.7" y="499.2" font-size="8.15" text-anchor="middle" font-weight="normal" fill="#1a1a1a" >Concentration (µmol/L)</text>
<text transform="translate(276.8,424.0) rotate(-90)" font-size="8" text-anchor="middle" fill="#1a1a1a" >PSMA surface protein</text>
<text transform="translate(285.7,424.0) rotate(-90)" font-size="8" text-anchor="middle" fill="#1a1a1a" >(antibodies bound per cell)</text>
<line x1="328.1" y1="468.6" x2="517.1" y2="468.6" stroke="#9a9a9a" stroke-width="1.05" stroke-dasharray="1.6,0.7"/>
<polyline points="328.10,478.40 328.10,478.40 328.10,478.39 328.11,478.38 328.12,478.35 328.13,478.33 328.14,478.29 328.16,478.26 328.18,478.21 328.20,478.16 328.22,478.11 328.24,478.04 328.27,477.97 328.30,477.90 328.33,477.82 328.37,477.74 328.40,477.64 328.44,477.55 328.48,477.45 328.53,477.34 328.57,477.22 328.62,477.10 328.67,476.98 328.72,476.85 328.78,476.71 328.84,476.57 328.90,476.42 328.96,476.27 329.03,476.11 329.09,475.95 329.16,475.78 329.24,475.61 329.31,475.43 329.39,475.24 329.47,475.05 329.55,474.86 329.63,474.66 329.72,474.46 329.81,474.25 329.90,474.03 329.99,473.81 330.09,473.59 330.18,473.36 330.28,473.13 330.39,472.89 330.49,472.65 330.60,472.41 330.71,472.16 330.82,471.90 330.94,471.64 331.05,471.38 331.17,471.11 331.29,470.84 331.42,470.56 331.54,470.28 331.67,470.00 331.80,469.71 331.94,469.42 332.07,469.13 332.21,468.83 332.35,468.53 332.50,468.22 332.64,467.92 332.79,467.60 332.94,467.29 333.09,466.97 333.25,466.65 333.40,466.33 333.56,466.00 333.72,465.67 333.89,465.33 334.05,465.00 334.22,464.66 334.39,464.32 334.57,463.97 334.74,463.63 334.92,463.28 335.10,462.93 335.29,462.57 335.47,462.22 335.66,461.86 335.85,461.50 336.04,461.14 336.24,460.77 336.43,460.41 336.63,460.04 336.84,459.67 337.04,459.29 337.25,458.92 337.46,458.55 337.67,458.17 337.88,457.79 338.10,457.41 338.32,457.03 338.54,456.65 338.76,456.26 338.99,455.88 339.21,455.49 339.44,455.11 339.68,454.72 339.91,454.33 340.15,453.94 340.39,453.55 340.63,453.16 340.88,452.77 341.12,452.37 341.37,451.98 341.62,451.58 341.88,451.19 342.13,450.79 342.39,450.40 342.65,450.00 342.92,449.61 343.18,449.21 343.45,448.81 343.72,448.41 343.99,448.02 344.27,447.62 344.55,447.22 344.83,446.82 345.11,446.43 345.39,446.03 345.68,445.63 345.97,445.23 346.26,444.83 346.56,444.44 346.85,444.04 347.15,443.64 347.45,443.25 347.76,442.85 348.06,442.46 348.37,442.06 348.68,441.67 349.00,441.27 349.31,440.88 349.63,440.49 349.95,440.09 350.27,439.70 350.60,439.31 350.92,438.92 351.25,438.53 351.58,438.14 351.92,437.75 352.26,437.37 352.59,436.98 352.94,436.59 353.28,436.21 353.63,435.82 353.97,435.44 354.32,435.06 354.68,434.68 355.03,434.30 355.39,433.92 355.75,433.54 356.11,433.16 356.48,432.79 356.85,432.41 357.22,432.04 357.59,431.66 357.96,431.29 358.34,430.92 358.72,430.55 359.10,430.18 359.48,429.82 359.87,429.45 360.26,429.09 360.65,428.72 361.04,428.36 361.44,428.00 361.84,427.64 362.24,427.28 362.64,426.93 363.05,426.57 363.45,426.22 363.86,425.86 364.28,425.51 364.69,425.16 365.11,424.81 365.53,424.47 365.95,424.12 366.37,423.78 366.80,423.43 367.23,423.09 367.66,422.75 368.09,422.41 368.53,422.07 368.97,421.74 369.41,421.40 369.85,421.07 370.30,420.74 370.74,420.41 371.19,420.08 371.65,419.75 372.10,419.42 372.56,419.10 373.02,418.78 373.48,418.46 373.94,418.14 374.41,417.82 374.88,417.50 375.35,417.18 375.82,416.87 376.30,416.56 376.78,416.25 377.26,415.94 377.74,415.63 378.23,415.32 378.72,415.02 379.21,414.71 379.70,414.41 380.19,414.11 380.69,413.81 381.19,413.51 381.69,413.22 382.20,412.92 382.70,412.63 383.21,412.34 383.72,412.05 384.24,411.76 384.75,411.47 385.27,411.18 385.79,410.90 386.32,410.62 386.84,410.33 387.37,410.05 387.90,409.78 388.43,409.50 388.97,409.22 389.51,408.95 390.05,408.68 390.59,408.40 391.13,408.13 391.68,407.87 392.23,407.60 392.78,407.33 393.33,407.07 393.89,406.81 394.45,406.54 395.01,406.28 395.57,406.03 396.14,405.77 396.71,405.51 397.28,405.26 397.85,405.00 398.43,404.75 399.00,404.50 399.58,404.25 400.17,404.01 400.75,403.76 401.34,403.52 401.93,403.27 402.52,403.03 403.11,402.79 403.71,402.55 404.31,402.31 404.91,402.07 405.51,401.84 406.12,401.60 406.73,401.37 407.34,401.14 407.95,400.91 408.57,400.68 409.19,400.45 409.81,400.23 410.43,400.00 411.05,399.78 411.68,399.55 412.31,399.33 412.94,399.11 413.58,398.89 414.21,398.68 414.85,398.46 415.49,398.25 416.14,398.03 416.78,397.82 417.43,397.61 418.08,397.40 418.74,397.19 419.39,396.98 420.05,396.77 420.71,396.57 421.37,396.36 422.04,396.16 422.71,395.96 423.37,395.76 424.05,395.56 424.72,395.36 425.40,395.16 426.08,394.96 426.76,394.77 427.44,394.57 428.13,394.38 428.82,394.19 429.51,394.00 430.20,393.81 430.90,393.62 431.60,393.43 432.30,393.24 433.00,393.06 433.70,392.87 434.41,392.69 435.12,392.51 435.83,392.33 436.55,392.15 437.27,391.97 437.99,391.79 438.71,391.61 439.43,391.44 440.16,391.26 440.89,391.09 441.62,390.91 442.35,390.74 443.09,390.57 443.83,390.40 444.57,390.23 445.31,390.06 446.05,389.89 446.80,389.73 447.55,389.56 448.31,389.40 449.06,389.23 449.82,389.07 450.58,388.91 451.34,388.75 452.10,388.59 452.87,388.43 453.64,388.27 454.41,388.12 455.18,387.96 455.96,387.80 456.74,387.65 457.52,387.50 458.30,387.34 459.09,387.19 459.88,387.04 460.67,386.89 461.46,386.74 462.25,386.59 463.05,386.44 463.85,386.30 464.65,386.15 465.46,386.01 466.26,385.86 467.07,385.72 467.88,385.58 468.70,385.43 469.51,385.29 470.33,385.15 471.15,385.01 471.98,384.88 472.80,384.74 473.63,384.60 474.46,384.46 475.29,384.33 476.13,384.19 476.97,384.06 477.81,383.93 478.65,383.79 479.49,383.66 480.34,383.53 481.19,383.40 482.04,383.27 482.90,383.14 483.75,383.01 484.61,382.89 485.47,382.76 486.34,382.63 487.20,382.51 488.07,382.38 488.94,382.26 489.81,382.13 490.69,382.01 491.57,381.89 492.45,381.77 493.33,381.65 494.21,381.53 495.10,381.41 495.99,381.29 496.88,381.17 497.78,381.06 498.67,380.94 499.57,380.82 500.47,380.71 501.38,380.59 502.28,380.48 503.19,380.36 504.10,380.25 505.01,380.14 505.93,380.03 506.85,379.92 507.77,379.81 508.69,379.70 509.62,379.59 510.54,379.48 511.47,379.37 512.40,379.26 513.34,379.16 514.28,379.05 515.21,378.94 516.16,378.84 517.10,378.73" fill="none" stroke="#55aee4" stroke-width="0.9" />
<polyline points="328.10,478.60 328.10,478.60 328.10,478.59 328.11,478.58 328.12,478.57 328.13,478.55 328.14,478.52 328.16,478.49 328.18,478.45 328.20,478.40 328.22,478.34 328.24,478.28 328.27,478.21 328.30,478.13 328.33,478.04 328.37,477.94 328.40,477.83 328.44,477.72 328.48,477.59 328.53,477.46 328.57,477.32 328.62,477.17 328.67,477.01 328.72,476.84 328.78,476.66 328.84,476.47 328.90,476.27 328.96,476.06 329.03,475.85 329.09,475.62 329.16,475.39 329.24,475.15 329.31,474.90 329.39,474.63 329.47,474.37 329.55,474.09 329.63,473.80 329.72,473.51 329.81,473.21 329.90,472.90 329.99,472.58 330.09,472.25 330.18,471.92 330.28,471.58 330.39,471.23 330.49,470.88 330.60,470.52 330.71,470.15 330.82,469.78 330.94,469.40 331.05,469.02 331.17,468.63 331.29,468.23 331.42,467.83 331.54,467.43 331.67,467.02 331.80,466.60 331.94,466.19 332.07,465.76 332.21,465.34 332.35,464.91 332.50,464.48 332.64,464.04 332.79,463.61 332.94,463.17 333.09,462.72 333.25,462.28 333.40,461.83 333.56,461.38 333.72,460.94 333.89,460.49 334.05,460.03 334.22,459.58 334.39,459.13 334.57,458.68 334.74,458.22 334.92,457.77 335.10,457.32 335.29,456.86 335.47,456.41 335.66,455.96 335.85,455.51 336.04,455.06 336.24,454.61 336.43,454.16 336.63,453.71 336.84,453.27 337.04,452.83 337.25,452.38 337.46,451.94 337.67,451.51 337.88,451.07 338.10,450.64 338.32,450.21 338.54,449.78 338.76,449.35 338.99,448.93 339.21,448.51 339.44,448.09 339.68,447.67 339.91,447.26 340.15,446.85 340.39,446.44 340.63,446.04 340.88,445.64 341.12,445.24 341.37,444.85 341.62,444.45 341.88,444.07 342.13,443.68 342.39,443.30 342.65,442.92 342.92,442.55 343.18,442.18 343.45,441.81 343.72,441.44 343.99,441.08 344.27,440.72 344.55,440.37 344.83,440.02 345.11,439.67 345.39,439.33 345.68,438.99 345.97,438.65 346.26,438.32 346.56,437.99 346.85,437.66 347.15,437.34 347.45,437.02 347.76,436.70 348.06,436.39 348.37,436.08 348.68,435.77 349.00,435.47 349.31,435.17 349.63,434.87 349.95,434.58 350.27,434.29 350.60,434.01 350.92,433.72 351.25,433.44 351.58,433.17 351.92,432.89 352.26,432.62 352.59,432.35 352.94,432.09 353.28,431.83 353.63,431.57 353.97,431.32 354.32,431.06 354.68,430.81 355.03,430.57 355.39,430.33 355.75,430.09 356.11,429.85 356.48,429.61 356.85,429.38 357.22,429.15 357.59,428.93 357.96,428.70 358.34,428.48 358.72,428.26 359.10,428.05 359.48,427.83 359.87,427.62 360.26,427.41 360.65,427.21 361.04,427.01 361.44,426.81 361.84,426.61 362.24,426.41 362.64,426.22 363.05,426.03 363.45,425.84 363.86,425.65 364.28,425.47 364.69,425.29 365.11,425.11 365.53,424.93 365.95,424.75 366.37,424.58 366.80,424.41 367.23,424.24 367.66,424.07 368.09,423.91 368.53,423.74 368.97,423.58 369.41,423.42 369.85,423.26 370.30,423.11 370.74,422.95 371.19,422.80 371.65,422.65 372.10,422.50 372.56,422.36 373.02,422.21 373.48,422.07 373.94,421.93 374.41,421.79 374.88,421.65 375.35,421.52 375.82,421.38 376.30,421.25 376.78,421.12 377.26,420.99 377.74,420.86 378.23,420.73 378.72,420.61 379.21,420.48 379.70,420.36 380.19,420.24 380.69,420.12 381.19,420.00 381.69,419.88 382.20,419.77 382.70,419.65 383.21,419.54 383.72,419.43 384.24,419.32 384.75,419.21 385.27,419.10 385.79,418.99 386.32,418.89 386.84,418.79 387.37,418.68 387.90,418.58 388.43,418.48 388.97,418.38 389.51,418.28 390.05,418.19 390.59,418.09 391.13,417.99 391.68,417.90 392.23,417.81 392.78,417.72 393.33,417.62 393.89,417.53 394.45,417.45 395.01,417.36 395.57,417.27 396.14,417.19 396.71,417.10 397.28,417.02 397.85,416.93 398.43,416.85 399.00,416.77 399.58,416.69 400.17,416.61 400.75,416.53 401.34,416.45 401.93,416.38 402.52,416.30 403.11,416.22 403.71,416.15 404.31,416.08 404.91,416.00 405.51,415.93 406.12,415.86 406.73,415.79 407.34,415.72 407.95,415.65 408.57,415.58 409.19,415.51 409.81,415.45 410.43,415.38 411.05,415.32 411.68,415.25 412.31,415.19 412.94,415.12 413.58,415.06 414.21,415.00 414.85,414.94 415.49,414.88 416.14,414.82 416.78,414.76 417.43,414.70 418.08,414.64 418.74,414.58 419.39,414.52 420.05,414.47 420.71,414.41 421.37,414.35 422.04,414.30 422.71,414.25 423.37,414.19 424.05,414.14 424.72,414.09 425.40,414.03 426.08,413.98 426.76,413.93 427.44,413.88 428.13,413.83 428.82,413.78 429.51,413.73 430.20,413.68 430.90,413.63 431.60,413.59 432.30,413.54 433.00,413.49 433.70,413.44 434.41,413.40 435.12,413.35 435.83,413.31 436.55,413.26 437.27,413.22 437.99,413.17 438.71,413.13 439.43,413.09 440.16,413.05 440.89,413.00 441.62,412.96 442.35,412.92 443.09,412.88 443.83,412.84 444.57,412.80 445.31,412.76 446.05,412.72 446.80,412.68 447.55,412.64 448.31,412.60 449.06,412.56 449.82,412.53 450.58,412.49 451.34,412.45 452.10,412.42 452.87,412.38 453.64,412.34 454.41,412.31 455.18,412.27 455.96,412.24 456.74,412.20 457.52,412.17 458.30,412.13 459.09,412.10 459.88,412.07 460.67,412.03 461.46,412.00 462.25,411.97 463.05,411.94 463.85,411.90 464.65,411.87 465.46,411.84 466.26,411.81 467.07,411.78 467.88,411.75 468.70,411.72 469.51,411.69 470.33,411.66 471.15,411.63 471.98,411.60 472.80,411.57 473.63,411.54 474.46,411.51 475.29,411.48 476.13,411.46 476.97,411.43 477.81,411.40 478.65,411.37 479.49,411.35 480.34,411.32 481.19,411.29 482.04,411.27 482.90,411.24 483.75,411.21 484.61,411.19 485.47,411.16 486.34,411.14 487.20,411.11 488.07,411.09 488.94,411.06 489.81,411.04 490.69,411.01 491.57,410.99 492.45,410.97 493.33,410.94 494.21,410.92 495.10,410.89 495.99,410.87 496.88,410.85 497.78,410.83 498.67,410.80 499.57,410.78 500.47,410.76 501.38,410.74 502.28,410.71 503.19,410.69 504.10,410.67 505.01,410.65 505.93,410.63 506.85,410.61 507.77,410.59 508.69,410.57 509.62,410.55 510.54,410.53 511.47,410.50 512.40,410.48 513.34,410.47 514.28,410.45 515.21,410.43 516.16,410.41 517.10,410.39" fill="none" stroke="#e4505a" stroke-width="0.9" />
<polygon points="326.55,473.09499999999997 329.65000000000003,473.09499999999997 328.1,470.305" fill="#c8303f"/>
<polygon points="328.34999999999997,470.395 331.45,470.395 329.9,467.605" fill="#c8303f"/>
<polygon points="330.15,469.195 333.25,469.195 331.7,466.40500000000003" fill="#c8303f"/>
<polygon points="332.45,465.59499999999997 335.55,465.59499999999997 334,462.805" fill="#c8303f"/>
<polygon points="338.15,447.09499999999997 341.25,447.09499999999997 339.7,444.305" fill="#c8303f"/>
<polygon points="350.75,433.695 353.85,433.695 352.3,430.90500000000003" fill="#c8303f"/>
<polygon points="374.05,423.29499999999996 377.15000000000003,423.29499999999996 375.6,420.505" fill="#c8303f"/>
<polygon points="421.45,414.195 424.55,414.195 423,411.40500000000003" fill="#c8303f"/>
<polygon points="515.5500000000001,415.09499999999997 518.65,415.09499999999997 517.1,412.305" fill="#c8303f"/>
<circle cx="328.6" cy="465" r="1.5" fill="#3a82c0"/>
<circle cx="330.8" cy="464.9" r="1.5" fill="#3a82c0"/>
<circle cx="334" cy="466" r="1.5" fill="#3a82c0"/>
<circle cx="340.2" cy="451.7" r="1.5" fill="#3a82c0"/>
<circle cx="352.3" cy="438" r="1.5" fill="#3a82c0"/>
<circle cx="375.6" cy="425.1" r="1.5" fill="#3a82c0"/>
<circle cx="423" cy="395.3" r="1.5" fill="#3a82c0"/>
<circle cx="517.1" cy="378.9" r="1.5" fill="#3a82c0"/>
<circle cx="328.2" cy="479.2" r="1.5" fill="#2e6a62"/>
<circle cx="336.9" cy="375.09999999999997" r="1.45" fill="#44739f"/>
<polygon points="335.34999999999997,387.395 338.45,387.395 336.9,384.605" fill="#b83545"/>
<polygon points="335.15,395.125 338.65,395.125 336.9,398.275" fill="#4a5058"/>
<text x="343.09999999999997" y="377.5" font-size="7.3" text-anchor="start" font-weight="normal" fill="#1a1a1a" >Darolutamide</text>
<text x="343.09999999999997" y="388.4" font-size="7.3" text-anchor="start" font-weight="normal" fill="#1a1a1a" >Enzalutamide</text>
<text x="343.09999999999997" y="399.09999999999997" font-size="7.3" text-anchor="start" font-weight="normal" fill="#1a1a1a" >DMSO</text>
</svg>
</body></html>
